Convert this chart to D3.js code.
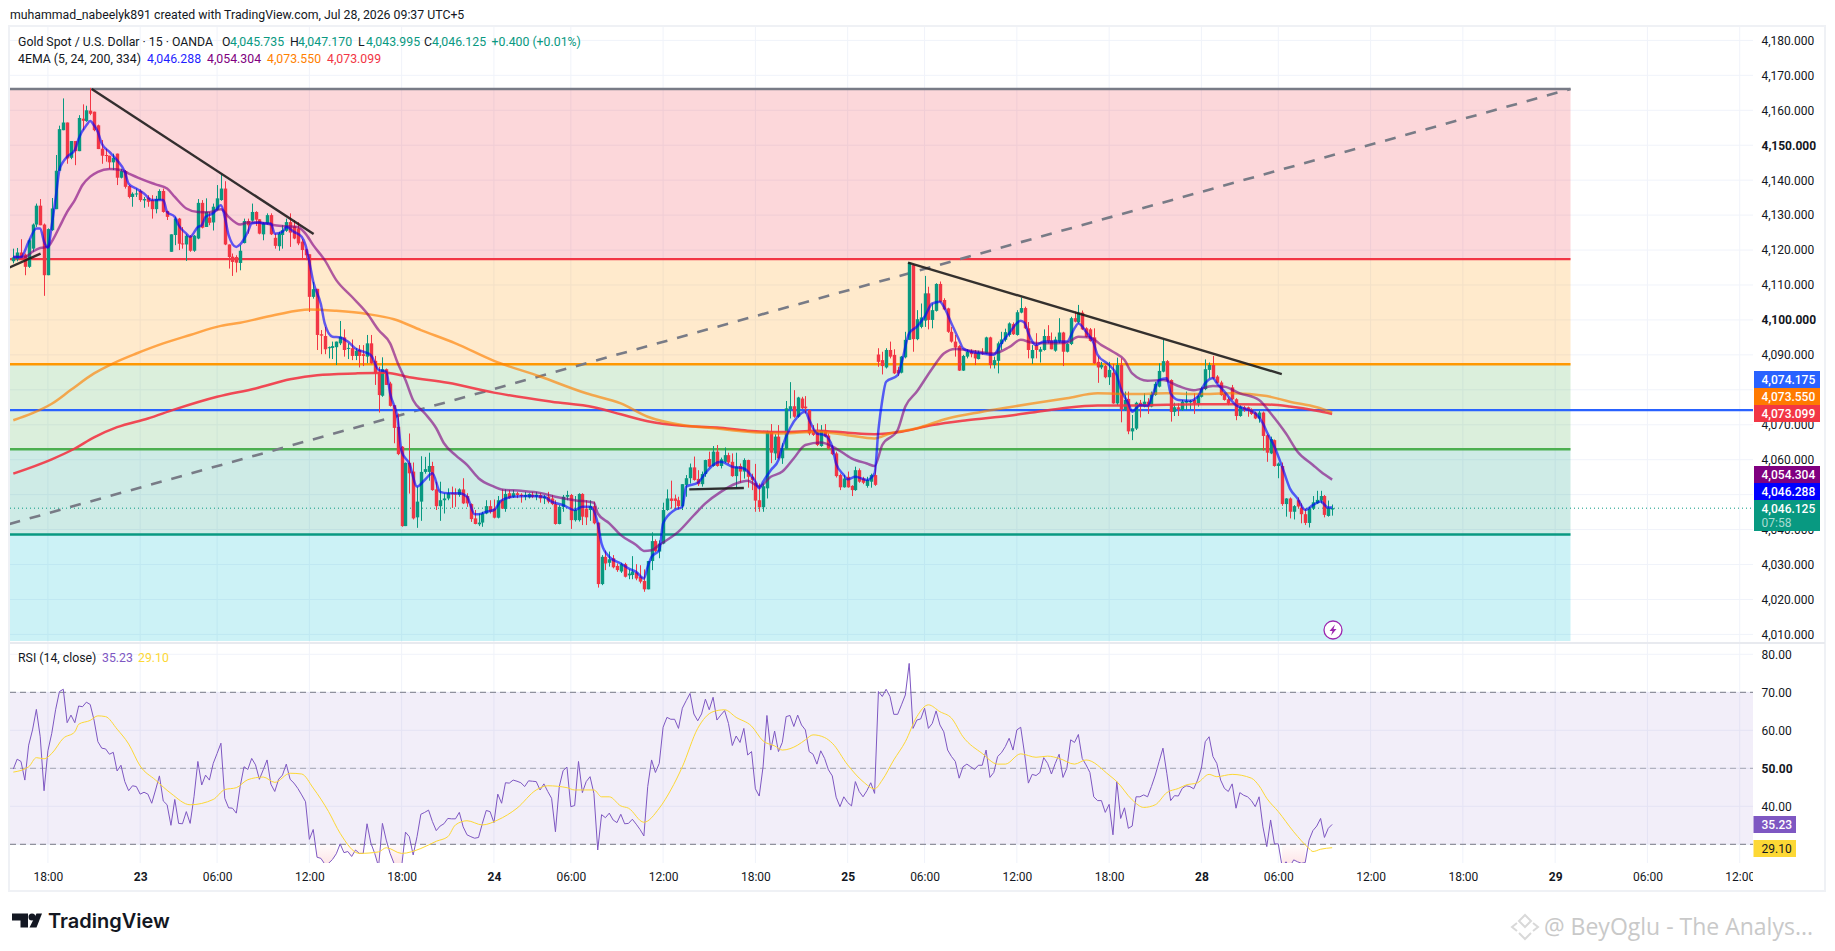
<!DOCTYPE html>
<html>
<head>
<meta charset="utf-8">
<title>Gold Spot / U.S. Dollar</title>
<script src="https://cdn.jsdelivr.net/npm/d3@7"></script>
<style>
  html, body { margin: 0; padding: 0; background: #fff; }
  svg { display: block; }
  text { font-family: Roboto, "Noto Sans", sans-serif; font-size: 12.3px; fill: #131722; }
  .axis path { display: none; }
  .axis line { display: none; }
  .axis text { fill: #131722; font-size: 12px; font-family: Roboto, "Noto Sans", sans-serif; }
</style>
</head>
<body>
<svg id="chart" width="1835" height="951"></svg>
<script>
// candles, one entry per 15 minute bar
var opens = [
4116.8,4117.4,4119.3,4118.7,4115.2,4120.4,4127.3,4132.7,4127.3,4112.8,
4125.7,4131.7,4142.7,4154.3,4156.5,4146.4,4151.2,4148.3,4157.6,4156.9,
4159.9,4159.6,4155.7,4149,4147.2,4147,4145.1,4147.6,4140.7,4142.6,
4138.3,4135.2,4136,4136.9,4134.2,4135,4134.3,4131.7,4134.3,4136.9,
4131.2,4119.5,4124.3,4129,4121.9,4121.6,4124,4119.8,4123.3,4133.5,
4126.6,4129.3,4127.9,4131.5,4134.3,4137.6,4121.6,4118.1,4118,4116.3,
4122,4128.3,4128.4,4130.9,4128.8,4124.5,4127.6,4130,4123.5,4121.1,
4124.3,4125.5,4128,4126.8,4126.2,4122.4,4120.2,4118.8,4106.6,4108.9,
4095.9,4095.4,4091.9,4092,4092.2,4093.3,4095,4091.8,4091.9,4089.7,
4091.4,4090.2,4089.5,4093.3,4088.3,4085.2,4078.3,4085.9,4081.8,4075.6,
4069.4,4063.7,4041,4059.1,4056.6,4043.5,4048,4056.5,4056.5,4058.2,
4051.5,4046.7,4048.4,4048.9,4050.4,4050.3,4049.9,4051.5,4049.6,4047.3,
4043.2,4041.5,4042,4044.6,4046.7,4046,4043.4,4048.4,4045.9,4050.4,
4049.4,4050.4,4050,4049.4,4049.2,4050,4049.4,4049.9,4048.9,4049.4,
4048.9,4047.3,4041.6,4046.5,4049.4,4049.9,4042.7,4042.7,4050.2,4046,
4045.6,4046.7,4042,4024.4,4032.2,4030.5,4031.8,4029.6,4028,4030.1,
4026.9,4027,4027.7,4026.5,4025.3,4022.9,4031,4036.7,4033.7,4036,
4045.6,4048.9,4048.9,4048.4,4046.7,4052.8,4054.7,4057.8,4054.5,4053,
4055.9,4060.2,4058.2,4062.3,4058.2,4059.4,4061.3,4059.4,4055.3,4058.2,
4056.6,4059.9,4055.1,4053.4,4048.4,4046.4,4051.8,4068,4061.8,4066.6,
4060.4,4063.2,4074.4,4075.3,4072.3,4077.5,4075.2,4074.2,4068.3,4067.8,
4063.9,4068.3,4066.9,4063.5,4061.8,4055.6,4052.1,4055.1,4052.5,4051.3,
4057,4054.6,4052.5,4053.7,4055.6,4090.1,4088.5,4086.4,4091.4,4090,
4085.7,4084.9,4089.3,4094.3,4115.7,4094.5,4098,4099.8,4107.6,4100,
4102.6,4110.3,4105.7,4103.3,4096.6,4093.8,4092.5,4085.5,4089.5,4090.9,
4090.6,4088.8,4090.6,4090.4,4095,4087.1,4088.3,4093.1,4094.3,4095.7,
4098.8,4095.7,4102.1,4103.4,4097.6,4089,4092.8,4090.9,4091.4,4095.4,
4094.1,4091.2,4093.8,4096.4,4090.9,4093.1,4100.5,4099.3,4102.1,4097.6,
4097.3,4095,4088,4086.4,4086.8,4083.6,4084.9,4076.1,4087.1,4074.2,
4077.4,4068.1,4068.9,4076.3,4075.2,4076.6,4075.2,4078.5,4080.9,4085.2,
4088.2,4082.8,4073.7,4075,4074.2,4076.3,4076.4,4077.1,4076.1,4078,
4080.2,4085.7,4087.1,4083.8,4082.1,4079,4077.3,4080.7,4077.3,4072.5,
4075,4075,4074.4,4073.5,4071.8,4073.5,4067,4061.8,4065.6,4058.2,
4058.2,4047.3,4048.9,4045.1,4048.4,4046.3,4044.4,4041.9,4046,4047.5,
4048.3,4049.6,4043.9,4045.735];

var highs = [
4120.4,4120.6,4123.1,4119,4123.3,4127.6,4133.3,4134.6,4127.6,4126.2,
4134.9,4147.2,4155.6,4163.4,4156.5,4151.2,4151.2,4158.6,4161.7,4161.3,
4166.4,4159.6,4155.9,4151.5,4149,4147,4147.6,4147.6,4143.3,4142.9,
4138.6,4136.5,4137.6,4137.4,4135.2,4135.7,4135.7,4135.5,4137.4,4137.6,
4131.2,4124.5,4129.5,4129.2,4126.6,4124.5,4124.3,4124.3,4134.6,4134.3,
4134.8,4130.9,4133.3,4138.6,4141.6,4139.7,4121.6,4119,4118.5,4121.4,
4129,4129,4133.3,4131.1,4128.8,4128,4130.5,4130.5,4124.7,4125.2,
4127.1,4129,4130.5,4128.6,4128,4123.1,4120.4,4118.8,4110.9,4108.9,
4097.1,4098,4092.4,4093.8,4093.8,4099.7,4097.3,4093.3,4094.4,4091.9,
4092.8,4092.8,4095.7,4095.7,4089.7,4086.6,4089.3,4086.1,4082.3,4075.6,
4073.2,4063.9,4059.2,4067.5,4059.2,4052.3,4061,4060.8,4062,4059.4,
4053.7,4053.7,4050.4,4051.8,4052.3,4051.8,4051.8,4054.7,4050.4,4047.5,
4045.6,4044.6,4045.1,4048.4,4048.4,4048.6,4049.6,4051.5,4051.5,4051.3,
4051.3,4050.8,4050.4,4050.8,4050.4,4050.8,4050.8,4050.4,4049.9,4050.8,
4049.9,4048.4,4047,4049.9,4051.1,4050.2,4049.6,4050.4,4050.4,4048.4,
4048.4,4048,4042,4032.7,4034,4033.7,4032.7,4030.3,4030.5,4030.5,
4028.6,4032.4,4030.1,4029.8,4028.6,4031,4039.2,4037.2,4036.9,4047.7,
4051.5,4054,4050,4049.4,4053,4055.6,4058.9,4060.9,4057,4056.6,
4060,4062.3,4063.9,4064.2,4060.6,4063.5,4062,4061.8,4062,4058.9,
4060.4,4060,4056,4058.8,4053.2,4053,4068.3,4070.2,4067.3,4069.9,
4064.7,4076.8,4082.2,4079.9,4078,4078,4078.2,4074.4,4069.9,4070.4,
4069.9,4070.2,4067.5,4064.2,4062.3,4056,4055.6,4056.6,4052.7,4058,
4057.5,4055.1,4055.1,4056,4058.5,4091.9,4090.9,4091.9,4093.8,4091.6,
4086.6,4089.7,4096.6,4116.5,4116,4102.8,4104.7,4112.6,4109.5,4104.7,
4110.5,4111,4106.2,4103.5,4098,4095.7,4092.8,4090,4091.6,4091.6,
4091.4,4091.2,4091.9,4095.2,4095.2,4089.5,4093.8,4096.6,4097.5,4099.3,
4099.3,4102.8,4106.4,4103.8,4099.4,4092.8,4096.2,4092.3,4097.3,4098.5,
4096.4,4095.2,4100.5,4096.6,4093.3,4100.9,4102.4,4104.3,4102.7,4097.9,
4097.7,4097.6,4089.5,4088,4087.1,4088,4087.4,4089.2,4089,4079.5,
4079.5,4072.8,4076.6,4077.1,4079,4077.6,4079.5,4082.3,4087.6,4094.3,
4088.5,4083,4076.3,4076.1,4077.1,4079.5,4077.1,4079,4078.5,4080.9,
4088.7,4087.8,4089.7,4084.2,4082.6,4079.2,4077.8,4081.4,4077.6,4075.6,
4075.4,4075.2,4074.7,4073.8,4074,4073.8,4067.3,4066.6,4065.8,4059.2,
4059.2,4049,4049.2,4047,4049.2,4047.5,4046,4046.5,4049.6,4051.1,
4051.1,4049.9,4048.3,4047.17];

var lows = [
4116.2,4116.8,4117.1,4112.8,4114.9,4119.5,4126.6,4127.1,4106.9,4112.8,
4125.5,4131.7,4142.7,4154.3,4144.7,4146,4144.3,4148.3,4154.3,4156.7,
4158.6,4154,4148.9,4144.7,4145.3,4143.3,4142.9,4138.6,4140.5,4137.6,
4134.8,4132.4,4135.2,4133.8,4132.1,4132.4,4129,4130.5,4134.3,4130.7,
4128.6,4119.5,4121.4,4120,4120.4,4116.9,4119.5,4119.5,4123.1,4126.2,
4126.6,4127.1,4125.6,4131.3,4134.1,4121.4,4114.7,4112.6,4113.6,4114.2,
4121.9,4124.7,4128.1,4126.9,4124.5,4122.8,4127.3,4124.3,4120.4,4119.8,
4120.4,4125.2,4120.9,4123.1,4121.4,4117.6,4117.1,4102.3,4106.1,4091.4,
4090.2,4090.2,4089,4088.8,4087.1,4092.8,4089.5,4088.8,4088.5,4088.5,
4086.4,4086.8,4087.6,4087.4,4081.4,4073.5,4078,4081.4,4075.2,4064.7,
4061.3,4040.8,4041,4050.3,4042.9,4040.5,4042.5,4056,4054,4051.1,
4045.6,4042.5,4044.6,4048.4,4046.2,4046.5,4049.4,4047.3,4046.5,4042.2,
4041.5,4041,4040.8,4044.4,4044.6,4043.2,4043.2,4045.9,4045.1,4048.8,
4049.1,4049,4047.7,4048.4,4048.9,4049,4048.4,4047.7,4047.3,4047.5,
4047,4041.4,4041.5,4045.1,4048.4,4040.2,4042.3,4042.3,4041.3,4041.3,
4042.5,4041.5,4023.4,4024.1,4028.4,4029.4,4028.9,4027.9,4027.6,4026.3,
4025.8,4025.8,4025.5,4024.6,4022.2,4022.9,4028.4,4033.6,4031.8,4035.8,
4045.4,4046,4046,4045.8,4045.6,4049.4,4053.2,4054,4052.5,4052.3,
4055.1,4057.8,4058,4058,4057.5,4059.1,4058.8,4055.1,4052,4053.4,
4054.6,4052,4051.3,4045.1,4045.1,4045.1,4048.9,4059,4059.9,4060.1,
4058.8,4063,4071.8,4072,4072,4074.5,4073.2,4067,4066.8,4063.9,
4063.7,4066.4,4062.9,4061.3,4054.9,4051.3,4052,4052,4049.6,4051.1,
4053.4,4053,4052,4052,4052.5,4086.6,4084.4,4086.1,4089,4084.5,
4084,4084.7,4089,4094.3,4090.9,4094.2,4097.6,4098,4097.3,4097.6,
4102.4,4105,4102.8,4096.3,4093.5,4089.5,4085.4,4085.4,4089,4089.3,
4087.1,4088.7,4090,4090.2,4086.1,4086.1,4084.7,4091.4,4093.8,4095.2,
4095.7,4095.5,4101.9,4097.4,4089,4087.4,4089,4087.8,4091.2,4093.3,
4091.6,4090.9,4093.3,4086.8,4090.7,4092.8,4099.3,4099,4097.1,4095,
4093.8,4087.4,4082,4085.9,4083.3,4081.4,4076,4075.6,4070.7,4074,
4067.3,4065.6,4068.5,4072.1,4075,4073.1,4075,4078.3,4080.7,4085,
4082.3,4070.9,4072.5,4072.5,4074,4074.2,4074.4,4073.1,4075.2,4077.8,
4079.9,4083.3,4083,4081.8,4078.3,4076.9,4075.6,4077.1,4071.3,4072.3,
4073.7,4072.3,4072.8,4071.6,4070.6,4062.6,4059.4,4061.6,4058,4054.7,
4046.8,4043.7,4043.2,4042.9,4046.1,4041.8,4041.3,4040.6,4045.6,4047.3,
4047.5,4043.5,4043.7,4043.995];

var closes = [
4117.9,4119.3,4117.8,4115.2,4122.8,4127.3,4132.7,4127.1,4112.8,4126,
4131.9,4142.7,4154.6,4156.5,4146.2,4151.2,4148.3,4157.8,4157,4160,
4159,4154.3,4148.9,4147,4147,4145.1,4146.4,4140.7,4142.6,4138.1,
4135.2,4136.1,4136.2,4134.3,4134.6,4133.8,4131.7,4134.6,4136.9,4130.9,
4129.5,4124.5,4129,4121.8,4121.6,4124.1,4119.8,4124.1,4133.5,4126.4,
4130.9,4127.8,4132.4,4134.8,4137.6,4121.6,4118,4116.6,4116.4,4119.8,
4128.3,4127.1,4130.9,4128.7,4124.7,4127.6,4130,4124.5,4121.2,4124.7,
4125.7,4128,4125,4123.3,4121.9,4120,4118.5,4106.6,4108.8,4095.7,
4095.5,4091.6,4092.2,4092.5,4093.8,4095.2,4091.4,4092,4089.7,4091.2,
4089.7,4089.7,4093.3,4087.6,4084.7,4078.5,4085.9,4081.4,4075.4,4069.1,
4061.6,4041,4059.1,4056.1,4043.2,4048,4056.5,4057.3,4058.2,4051.3,
4046.7,4048.4,4048.9,4050.4,4050.1,4050,4051.5,4047.5,4047.5,4043,
4041.6,4042,4044.6,4046.7,4045.1,4043.4,4048.4,4046,4050.2,4049,
4050.4,4049.9,4049.6,4049.9,4050.2,4049.4,4050,4048.9,4049.4,4048,
4047.3,4041.6,4046.5,4049.4,4049.9,4042.7,4045.6,4050.2,4043.7,4043.5,
4046.7,4041.8,4024.4,4032.2,4030.3,4031.5,4029.2,4028.4,4030.1,4026.5,
4027.4,4028,4026,4025.1,4022.9,4031,4036.7,4033.8,4036,4045.6,
4048.9,4048.2,4048.2,4046.7,4053,4054.7,4057.8,4054.2,4053,4055.9,
4059.9,4058,4062.3,4058.2,4060.1,4061.3,4059.2,4055.3,4058,4056.6,
4059.9,4055.1,4054.2,4048.3,4046.4,4052.4,4068,4062,4066.6,4060.4,
4063.2,4074.7,4075.3,4072.3,4077.8,4074.7,4074.7,4067.5,4067.1,4064.2,
4068.5,4066.6,4063.2,4061.6,4055.3,4052.1,4054.6,4052.1,4051.3,4057,
4053.7,4053.4,4054.2,4055.6,4052.8,4088,4086.8,4091.4,4089.5,4084.7,
4084.7,4089.5,4094.3,4116.4,4094.5,4100.2,4100.7,4107.6,4100,4102.8,
4110.3,4105.2,4103,4096.6,4093.8,4092.1,4085.5,4089.7,4090.9,4090.2,
4089,4090.6,4090.4,4095,4087.1,4088.5,4093.3,4094.4,4096.5,4099,
4095.9,4102.2,4103.4,4097.6,4091.4,4091.4,4091.4,4091.6,4095.4,4093.8,
4091.6,4094.4,4096.4,4090.9,4093.1,4100.5,4099.5,4102.1,4097.3,4095.2,
4094,4087.6,4086.4,4087.1,4083.6,4085.7,4076.1,4087.1,4074.4,4077.1,
4068.1,4069,4076.3,4075.2,4076.6,4075.2,4078.7,4081.7,4085.4,4088.2,
4082.6,4073.7,4075,4074.4,4076.6,4076.8,4076.8,4076.1,4078.2,4080.4,
4085.9,4087.1,4083.3,4082,4078.5,4077.1,4076.1,4077.3,4072.5,4075.2,
4074.2,4074,4073.1,4071.8,4073.5,4066.8,4062,4065.9,4058.2,4058.9,
4047.3,4048.9,4045.1,4046.7,4046.6,4044.4,4041.9,4046,4047.8,4048.5,
4049.6,4044.2,4046.3,4046.125];

// moving averages, read at the bars where the line bends
var ema5Bars = [0,2,4,6,7,8,9,10,11,12,13,14,16,17,19,20,21,22,23,25,27,29,30,32,34,36,37,39,40,42,43,45,46,48,49,50,52,54,55,56,58,59,61,62,64,65,67,68,70,71,73,75,76,77,78,80,81,83,85,87,89,91,93,95,97,98,100,101,103,105,107,109,111,113,116,118,120,121,123,125,127,130,134,138,140,143,146,148,150,152,153,155,158,160,162,164,165,166,168,169,172,174,175,178,180,182,184,187,190,193,194,195,197,199,200,202,204,206,207,209,211,213,214,216,217,219,222,224,225,226,227,230,231,233,235,237,239,241,242,244,246,247,249,252,255,256,257,259,262,263,264,266,268,272,274,276,277,279,281,282,285,287,288,290,291,293,295,296,298,300,301,303,306,308,310,312,313,315,318,320,323,325,326,328,330,332,334,336,338,340,342,343];
var ema5Vals = [4118,4118,4122.4,4126.2,4126.2,4122.4,4120.7,4127.1,4134.8,4142.9,4145.3,4146.7,4148.6,4151.9,4155.7,4156.9,4155.7,4153.8,4150.5,4148.1,4145.7,4142.4,4139,4137.6,4136.2,4134.3,4134.3,4134.3,4130.9,4129.5,4127.1,4124.7,4123.8,4126.6,4127.1,4129.5,4130.5,4132.8,4129.5,4124.3,4120.9,4121.6,4125.2,4127.6,4127.9,4127.6,4127.6,4124.7,4125.2,4126.6,4125.2,4123.8,4121.4,4116.6,4111,4104.5,4099,4095.2,4095,4093.8,4091.8,4090.9,4089.9,4085.7,4085.2,4079,4071.4,4062.3,4058.9,4052.3,4054.2,4056.1,4050.8,4050.4,4050.4,4049.4,4044.4,4044.4,4045.1,4045.6,4048.4,4049.4,4049.6,4049.4,4048,4047,4045.6,4046.5,4046.5,4041.8,4036,4032.2,4030.3,4028.9,4027.9,4026,4029.4,4032.2,4034.1,4041.8,4045.6,4046.5,4052.3,4053.4,4056.1,4058.5,4059.4,4058,4057.5,4053.7,4051.8,4053.7,4057,4059.9,4063.7,4069,4072.3,4073.7,4071.4,4067.5,4067,4063.7,4058.9,4055.6,4054.4,4055.1,4054.2,4056.1,4068.5,4077,4082.3,4084.2,4087.6,4096.2,4098.1,4100.9,4104.7,4105.2,4103.8,4099,4094.2,4091.9,4090.9,4090.4,4090,4091.4,4093.3,4096.2,4099.8,4099.2,4096.2,4092.8,4093.8,4093.8,4093.8,4097.6,4099,4096.6,4093.3,4090,4087.1,4084.2,4080.4,4076.1,4073.7,4075.6,4075.4,4077.6,4082.8,4083.3,4079,4077.1,4076.9,4078,4081.9,4083.3,4081.9,4079.5,4075.6,4074.7,4073.3,4070.4,4068,4063.7,4058,4051.8,4048.9,4045.6,4047,4048,4046.3,4046.288];

var ema24Bars = [0,3,5,7,9,10,12,14,16,18,20,22,25,28,30,34,37,40,42,45,48,51,54,56,59,61,64,68,71,74,76,78,81,84,88,92,95,98,100,102,104,107,110,112,115,118,121,125,127,132,137,141,146,151,152,155,158,162,164,166,168,173,177,180,184,188,191,194,197,200,203,206,210,214,218,222,224,226,230,232,235,239,242,245,249,255,259,262,265,269,274,277,280,283,286,289,291,295,299,303,307,312,315,319,324,327,331,334,338,340,343];
var ema24Vals = [4118,4118,4119.5,4120.6,4120.9,4122.4,4126.6,4130.9,4134.3,4138.6,4141,4142.4,4143.2,4142.9,4141.9,4140,4138.8,4137.6,4135.2,4131.9,4130.9,4130.8,4131.7,4129.5,4127.3,4127.9,4127.9,4127.1,4126.8,4126.6,4124.7,4121.4,4117.1,4111.4,4106.7,4101.9,4097.1,4093.3,4087.6,4082.8,4077,4073.3,4069,4064.7,4061.3,4058.5,4054.7,4052.3,4051.5,4051.1,4050.5,4049.4,4048.4,4047.7,4044.6,4041.8,4038.4,4035.6,4033.9,4034.1,4035.6,4039.4,4044.1,4047.5,4050.8,4053.2,4054,4052.3,4055.1,4056.6,4060.4,4064.2,4064.9,4063.2,4060.4,4058.9,4058.2,4064.2,4068.5,4075.2,4079.5,4086.1,4090.4,4091.7,4091.2,4090.4,4092.2,4094.3,4093.5,4093.3,4093.5,4095.2,4095,4092.8,4090.9,4088.5,4084.7,4082.6,4082.8,4081.1,4079.9,4081.1,4080.9,4079,4077.1,4073.3,4067.5,4062.3,4058.5,4056.6,4054.304];

var ema200Bars = [0,5,10,15,21,26,32,39,46,54,59,68,77,84,92,99,106,115,125,137,149,158,165,174,183,191,200,209,217,224,228,235,243,252,259,265,274,282,291,300,308,317,326,332,339,343];
var ema200Vals = [4071.3,4073.3,4076,4080,4084.7,4087.6,4090.4,4093.3,4095.7,4098.3,4099.2,4101.4,4103,4102.6,4101.7,4100.2,4097.1,4093.3,4088.3,4083.8,4079,4076.1,4072.3,4069.9,4068.9,4068,4067.5,4068,4067,4066.1,4067.5,4069,4071.8,4073.7,4075,4076.1,4077.6,4079,4078.8,4079,4078.8,4079,4078.2,4076.6,4075,4073.55];

var ema334Bars = [0,10,16,21,27,35,42,53,63,72,79,89,97,103,113,125,140,151,158,165,174,183,191,200,209,217,224,231,239,248,259,265,274,282,291,300,308,317,326,332,339,343];
var ema334Vals = [4056,4060.1,4063.2,4066.4,4069.3,4071.8,4074.4,4078,4080.4,4083,4084.2,4084.7,4084.9,4083.6,4082,4079.2,4076.6,4075,4073,4071,4069.7,4069.2,4068.3,4067.9,4068.3,4067.7,4067.3,4068,4069.9,4071.3,4072.6,4073.5,4074.9,4075.5,4075.5,4075.7,4075.9,4075.9,4075.8,4075.2,4074,4073.099];

// RSI for every bar
var rsiVals = [
49.8,52.4,51.8,46.9,56.1,60.1,65.5,58.3,44.1,54.6,
59.2,65.4,70.2,70.8,62,64,62,66.4,66.2,67.4,
66.8,62.7,57,55.3,55.1,53.7,54.2,49.3,50.8,46.5,
44.1,45.4,45.2,43.2,43.7,43.2,40.8,44.3,48,41.4,
40.4,35,41.8,35.5,35.4,38.6,35.5,42.5,51.8,45.6,
48.2,46.9,51.3,53.9,56.6,42.1,39.6,39.5,38.2,45.2,
50.4,49.7,52.6,50.9,47.1,49.6,52.2,45.8,43.9,47.1,
48.2,51.1,47.1,46.1,44.7,43,41.2,31.3,33.9,26.6,
26.3,24.8,25,26,27.5,30.1,27.8,28.1,26.8,28.5,
27.6,27.6,35.4,30.3,27.6,24.1,35.5,31.1,27.6,25,
22.4,24.1,33.2,32,27.2,32,37.9,38.4,39,36,
33.6,34.8,35.4,36.8,36.7,36.7,38.4,34.6,32.5,32,
31.6,31.8,35.5,38.9,38.6,35.7,43.2,40.8,46.2,46.1,
46.9,46.6,46.2,45.2,46.7,46.6,46.5,44.3,45.9,43.9,
42.1,33.3,45.2,49.4,50.3,39.9,40.2,51.8,43.6,46.5,
47.8,43.4,28.5,37.8,37,38.2,36.4,35.7,37.9,35.4,
35.5,36.6,35.3,33.9,32.2,45.2,52.2,48.9,51.3,60.8,
63.4,62.9,62.9,60.5,65.8,67.8,69.7,64.3,62.5,64.3,
68.2,65.4,68.7,62.7,64,65.2,61.8,56,58.5,56.8,
60.5,53.5,54.4,44.6,42.7,50.4,63.9,54.8,59.8,54.4,
56.8,63.6,63.9,61,64,61.4,60.1,54.4,53.7,51.1,
54.6,52.6,49.6,48,42.4,39.9,42.5,41,40.1,46.5,
43.9,42.5,44.1,46.2,43.4,70.2,68.9,70.8,68.9,64.2,
64.2,66.7,69.3,77.6,60.5,62.7,63,65.8,60.5,61.8,
65.1,61.4,59.6,54.8,53.1,51.8,47.4,50.4,51.1,50.4,
49.7,50.8,50.8,54.8,47.6,48.9,53.1,54.1,55.7,57.9,
54.8,60.1,60.8,53.9,46.1,48.4,48.1,48.9,52.8,51.3,
48.5,51.3,53.7,47.6,50,57.5,56.8,58.9,52.6,50.9,
48.9,42.5,41.5,41.5,38.4,40.5,32.5,46.5,36.8,39.6,
34.2,34.8,42.5,42.5,43,42.5,45.2,48.2,51.8,55.3,
48.7,41.5,42.8,42.7,44.7,45.4,45.2,44.6,46.9,50,
57,58.3,53.1,51.3,46.9,44.7,43.9,45.9,39.5,43.6,
42.9,42.5,41.5,39.9,42.5,34.6,29.4,36.4,30.1,30.1,
24.1,25.4,24.1,25.9,25.4,25,25.2,31.1,33.6,34.8,
36.8,31.8,34.2,35.23];

var rsiMaBars = [0,4,6,8,10,13,16,17,20,22,24,27,30,33,37,41,46,52,55,58,61,65,68,72,75,78,82,85,90,95,97,101,106,110,113,115,118,122,126,131,136,139,144,146,151,153,155,158,160,164,168,171,174,178,182,185,188,192,195,198,200,204,206,208,211,213,217,221,224,226,229,232,235,238,241,244,247,252,256,258,262,266,269,272,276,279,285,287,291,294,297,300,303,305,308,311,313,317,322,324,326,329,333,337,338,340,343];
var rsiMaVals = [49,50.4,52.8,52.5,53.9,57.9,59.6,61.6,62.6,63.8,63.6,60.3,56.4,50.6,46.9,43.4,40.4,41.8,44.4,44.9,47,47.7,46.3,48.7,48.5,44.8,38.6,32.9,27.6,28,29.1,27.6,28.9,30.8,32,35.1,36.2,35.1,36.4,39.5,44.3,45.4,44.9,44.3,44.3,42.5,42.5,40.1,39.5,35.8,39.5,44.3,50.4,60.5,64.9,65.4,63.4,61.1,57.2,55.9,54.8,56.1,57.5,58.8,58.1,56.6,50.9,46.5,44.6,46.9,52.2,57,63.6,66.7,64.9,63.2,58.3,53.9,51.1,51.1,53.8,52.9,53.2,52.6,51.1,52.2,48.2,46.5,41.7,39.7,40.4,43.6,44.7,45.6,46.2,48.4,47.8,48.4,47.4,45.4,42.1,38.6,33.3,28.9,28.1,28.7,29.1];

// axis ticks
var priceGrid = [4010,4020,4030,4040,4050,4060,4070,4080,4090,4100,4110,4120,4130,4140,4150,4160,4170,4180];
var priceTicks = [4010,4020,4030,4040,4060,4070,4090,4100,4110,4120,4130,4140,4150,4160,4170,4180];
var rsiGrid = [30,40,50,60,70,80];
var rsiTicks = [40,50,60,70,80];
var timeBars = [9,33,53,77,101,125,145,169,193,217,237,261,285,309,329,353,377,401,425,449];
var timeLabels = ["18:00","23","06:00","12:00","18:00","24","06:00","12:00","18:00","25","06:00","12:00","18:00","28","06:00","12:00","18:00","29","06:00","12:00"];

// drawings on the chart: fib levels, horizontal line, trend lines as bar / price pairs
var fibLevels = [4166.1,4117.4,4087.3,4063,4038.6,4008.1];
var fibEndBar = 405;
var blueLevel = 4074.175;
var lastClose = 4046.125;
var fibTrend = [[-1,4041.6],[405,4166.1]];
var trendLines = [
  [[20.4,4166.1],[78.1,4124.6]],
  [[-1,4115],[7.1,4119]],
  [[175.8,4051.5],[190,4051.9]],
  [[232.7,4116.4],[329.9,4084.5]]
];

// price tags on the right
var tagTexts = ["4,074.175","4,073.550","4,073.099","4,054.304","4,046.288"];
var tagFills = ["#2962ff","#ff7a00","#f23645","#800080","#0000ff"];
var tagTops = [371,388,405,466,483];

var paneL = 10, paneR = 1753, mainT = 27, mainB = 642, rsiT = 644, rsiB = 863;
var up = "#089981", down = "#f23645";

var svg = d3.select("#chart");

var x = d3.scaleLinear().domain([0, 449]).range([13.3, 13.3 + 3.845 * 449]);
var y = d3.scaleLinear().domain([4010, 4180]).range([634.4, 40.4]);
var yr = d3.scaleLinear().domain([30, 80]).range([844.3, 654.3]);

var defs = svg.append("defs");
defs.append("clipPath").attr("id", "clipMain").append("rect")
    .attr("x", paneL).attr("y", mainT).attr("width", paneR - paneL).attr("height", mainB - mainT);
defs.append("clipPath").attr("id", "clipRsi").append("rect")
    .attr("x", paneL).attr("y", rsiT).attr("width", paneR - paneL).attr("height", rsiB - rsiT);
defs.append("clipPath").attr("id", "clipTime").append("rect")
    .attr("x", paneL).attr("y", rsiB).attr("width", paneR - paneL).attr("height", 27);
var fade = defs.append("linearGradient").attr("id", "oversold").attr("x1", 0).attr("x2", 0).attr("y1", 0).attr("y2", 1);
fade.append("stop").attr("offset", 0).attr("stop-color", "#f23645").attr("stop-opacity", 0.02);
fade.append("stop").attr("offset", 1).attr("stop-color", "#f23645").attr("stop-opacity", 0.18);

// outer frame
svg.append("rect").attr("x", 9).attr("y", 26).attr("width", 1816).attr("height", 865)
    .attr("fill", "#fff").attr("stroke", "#eff1f5").attr("stroke-width", 2);
svg.append("line").attr("x1", paneL).attr("x2", 1825).attr("y1", 643).attr("y2", 643)
    .attr("stroke", "#e8eaef").attr("stroke-width", 2);

// grid
var grid = svg.append("g").attr("stroke", "#f0f3fa");
grid.selectAll(".hp").data(priceGrid).join("line")
    .attr("x1", paneL).attr("x2", paneR).attr("y1", function(d) { return y(d); }).attr("y2", function(d) { return y(d); });
grid.selectAll(".hr").data(rsiGrid).join("line")
    .attr("x1", paneL).attr("x2", paneR).attr("y1", function(d) { return yr(d); }).attr("y2", function(d) { return yr(d); });
grid.selectAll(".vm").data(timeBars).join("line")
    .attr("x1", function(d) { return x(d); }).attr("x2", function(d) { return x(d); }).attr("y1", mainT).attr("y2", mainB);
grid.selectAll(".vr").data(timeBars).join("line")
    .attr("x1", function(d) { return x(d); }).attr("x2", function(d) { return x(d); }).attr("y1", rsiT).attr("y2", rsiB);

var main = svg.append("g").attr("clip-path", "url(#clipMain)");

// fib zones
var zoneFill = ["#f23645", "#ff9800", "#4caf50", "#089981", "#00bcd4"];
var levelStroke = ["#787b86", "#f23645", "#ff9800", "#4caf50", "#089981"];
var zoneData = d3.range(5);
main.selectAll(".zone").data(zoneData).join("rect")
    .attr("x", paneL - 2)
    .attr("width", x(fibEndBar) - paneL + 2)
    .attr("y", function(d) { return y(fibLevels[d]); })
    .attr("height", function(d) { return y(fibLevels[d + 1]) - y(fibLevels[d]); })
    .attr("fill", function(d) { return zoneFill[d]; })
    .attr("fill-opacity", 0.2);
main.selectAll(".level").data(zoneData).join("line")
    .attr("x1", paneL).attr("x2", x(fibEndBar))
    .attr("y1", function(d) { return y(fibLevels[d]); })
    .attr("y2", function(d) { return y(fibLevels[d]); })
    .attr("stroke", function(d) { return levelStroke[d]; })
    .attr("stroke-width", 2.4);

var seg = d3.line().x(function(d) { return x(d[0]); }).y(function(d) { return y(d[1]); });

main.append("path").attr("d", seg(fibTrend))
    .attr("fill", "none").attr("stroke", "#787b86").attr("stroke-width", 2.6).attr("stroke-dasharray", "11 10");

main.append("line").attr("x1", paneL).attr("x2", paneR)
    .attr("y1", y(blueLevel)).attr("y2", y(blueLevel))
    .attr("stroke", "#2962ff").attr("stroke-width", 2.2);

main.append("line").attr("x1", paneL).attr("x2", paneR)
    .attr("y1", y(lastClose)).attr("y2", y(lastClose))
    .attr("stroke", up).attr("stroke-dasharray", "1 3");

// candles
var bars = d3.range(closes.length);
var candleColor = function(i) { return closes[i] >= opens[i] ? up : down; };
main.append("g").selectAll("rect").data(bars).join("rect")
    .attr("x", function(i) { return Math.round(x(i)); })
    .attr("width", 1)
    .attr("y", function(i) { return y(highs[i]); })
    .attr("height", function(i) { return Math.max(1, y(lows[i]) - y(highs[i])); })
    .attr("fill", candleColor);
main.append("g").selectAll("rect").data(bars).join("rect")
    .attr("x", function(i) { return Math.round(x(i)) - 1.2; })
    .attr("width", 3.4)
    .attr("y", function(i) { return y(Math.max(opens[i], closes[i])); })
    .attr("height", function(i) { return Math.max(1, Math.abs(y(opens[i]) - y(closes[i]))); })
    .attr("fill", candleColor);

// EMAs
function emaPath(b, v) {
  var pts = b.map(function(d, k) { return [d, v[k]]; });
  return d3.line().curve(d3.curveMonotoneX)
      .x(function(d) { return x(d[0]); }).y(function(d) { return y(d[1]); })(pts);
}
var emaStyles = [
  [ema334Bars, ema334Vals, "#f23645", 0.9],
  [ema200Bars, ema200Vals, "#ff7f00", 0.65],
  [ema24Bars, ema24Vals, "#800080", 0.62],
  [ema5Bars, ema5Vals, "#0000ff", 0.62]
];
emaStyles.forEach(function(s) {
  main.append("path").attr("d", emaPath(s[0], s[1]))
      .attr("fill", "none").attr("stroke", s[2]).attr("stroke-opacity", s[3]).attr("stroke-width", 2.5);
});

// trend lines
main.selectAll(".trend").data(trendLines).join("path")
    .attr("d", function(d) { return seg(d); })
    .attr("fill", "none").attr("stroke", "#1e1c1c").attr("stroke-opacity", 0.9).attr("stroke-width", 2.4);

// lightning marker
var marker = svg.append("g").attr("transform", "translate(1333,630)");
marker.append("circle").attr("r", 9).attr("fill", "#fff").attr("stroke", "#9c27b0").attr("stroke-width", 1.3);
marker.append("path").attr("d", "M2,-5.5 L-3.5,1 L-0.5,1 L-2,5.5 L3.5,-1 L0.5,-1 Z").attr("fill", "#9c27b0");

// RSI pane
var rsi = svg.append("g").attr("clip-path", "url(#clipRsi)");
rsi.append("rect").attr("x", paneL).attr("width", paneR - paneL)
    .attr("y", yr(70)).attr("height", yr(30) - yr(70))
    .attr("fill", "#7e57c2").attr("fill-opacity", 0.1);
rsi.selectAll(".band").data([70, 50, 30]).join("line")
    .attr("x1", paneL).attr("x2", paneR)
    .attr("y1", function(d) { return yr(d); }).attr("y2", function(d) { return yr(d); })
    .attr("stroke", "#787b86").attr("stroke-opacity", function(d) { return d === 50 ? 0.6 : 1; })
    .attr("stroke-dasharray", "6 4");

rsi.append("path").datum(rsiVals)
    .attr("d", d3.area().defined(function(d) { return d < 30; })
        .x(function(d, i) { return x(i); }).y0(yr(30)).y1(function(d) { return yr(d); }))
    .attr("fill", "url(#oversold)");

rsi.append("path").datum(rsiVals)
    .attr("d", d3.line().x(function(d, i) { return x(i); }).y(function(d) { return yr(d); }))
    .attr("fill", "none").attr("stroke", "#7e57c2").attr("stroke-width", 1);

rsi.append("path").datum(rsiMaBars.map(function(d, k) { return [d, rsiMaVals[k]]; }))
    .attr("d", d3.line().curve(d3.curveMonotoneX).x(function(d) { return x(d[0]); }).y(function(d) { return yr(d[1]); }))
    .attr("fill", "none").attr("stroke", "#fdd835").attr("stroke-width", 1);

// axes
var priceAxis = d3.axisRight(y).tickValues(priceTicks).tickFormat(d3.format(",.3f")).tickSize(0).tickPadding(0);
var gPrice = svg.append("g").attr("class", "axis").attr("transform", "translate(1761.5,0)").call(priceAxis);
gPrice.selectAll("text").attr("font-weight", function(d) { return d % 50 === 0 ? 700 : 400; });

var rsiAxis = d3.axisRight(yr).tickValues(rsiTicks).tickFormat(d3.format(".2f")).tickSize(0).tickPadding(0);
var gRsi = svg.append("g").attr("class", "axis").attr("transform", "translate(1761.5,0)").call(rsiAxis);
gRsi.selectAll("text").attr("font-weight", function(d) { return d === 50 ? 700 : 400; });

var timeAxis = d3.axisBottom(x).tickValues(timeBars)
    .tickFormat(function(d) { return timeLabels[timeBars.indexOf(d)]; })
    .tickSize(0).tickPadding(9.5);
var gTime = svg.append("g").attr("clip-path", "url(#clipTime)").append("g")
    .attr("class", "axis").attr("transform", "translate(0," + rsiB + ")").call(timeAxis);
gTime.selectAll("text").attr("font-weight", function(d) {
  return timeLabels[timeBars.indexOf(d)].indexOf(":") < 0 ? 700 : 400;
});

// price tags
var tagG = svg.append("g");
tagTexts.forEach(function(t, k) {
  tagG.append("rect").attr("x", 1754).attr("y", tagTops[k]).attr("width", 66).attr("height", 17).attr("fill", tagFills[k]);
  tagG.append("text").attr("x", 1761.5).attr("y", tagTops[k] + 12.8).style("fill", "#fff").style("font-size", "12px")
      .attr("font-weight", 500).text(t);
});
tagG.append("rect").attr("x", 1754).attr("y", 500).attr("width", 66).attr("height", 31).attr("fill", up);
tagG.append("text").attr("x", 1761.5).attr("y", 512.8).style("fill", "#fff").style("font-size", "12px").attr("font-weight", 500).text("4,046.125");
tagG.append("text").attr("x", 1761.5).attr("y", 526.5).style("fill", "#a9dcd2").style("font-size", "12px").text("07:58");
tagG.append("rect").attr("x", 1753.5).attr("y", 816).attr("width", 42.5).attr("height", 17).attr("fill", "#7e57c2");
tagG.append("text").attr("x", 1761.5).attr("y", 828.8).style("fill", "#fff").style("font-size", "12px").attr("font-weight", 500).text("35.23");
tagG.append("rect").attr("x", 1753.5).attr("y", 840).attr("width", 42.5).attr("height", 17).attr("fill", "#fdd835");
tagG.append("text").attr("x", 1761.5).attr("y", 852.8).style("font-size", "12px").text("29.10");

// header and legends
function label(px, py, str, color) {
  return svg.append("text").attr("x", px).attr("y", py).style("fill", color || "#131722").text(str);
}
label(10, 19, "muhammad_nabeelyk891 created with TradingView.com, Jul 28, 2026 09:37 UTC+5");
label(18, 45.5, "Gold Spot / U.S. Dollar \u00b7 15 \u00b7 OANDA");
var ohlcLetters = ["O", "H", "L", "C"];
var ohlcVals = ["4,045.735", "4,047.170", "4,043.995", "4,046.125"];
var ohlcX = [222, 290, 358, 424];
ohlcLetters.forEach(function(l, k) {
  label(ohlcX[k], 45.5, l);
  label(ohlcX[k] + 8, 45.5, ohlcVals[k], up);
});
label(491.5, 45.5, "+0.400 (+0.01%)", up);
label(18, 63, "4EMA (5, 24, 200, 334)");
label(147, 63, "4,046.288", "#1f1fff");
label(207, 63, "4,054.304", "#800080");
label(267, 63, "4,073.550", "#ff7f00");
label(327, 63, "4,073.099", "#f23645");
label(18, 662, "RSI (14, close)");
label(102, 662, "35.23", "#7e57c2");
label(138, 662, "29.10", "#fdd835");

// logo
var logo = svg.append("g").attr("fill", "#131722");
logo.append("path").attr("d", "M12,913.5 H28 V927.5 H20.5 V920.5 H12 Z");
logo.append("circle").attr("cx", 32).attr("cy", 917).attr("r", 3.5);
logo.append("path").attr("d", "M36.5,913.5 H42 L36.5,927.5 H29.5 Z");
svg.append("text").attr("x", 48).attr("y", 928).style("font-size", "20px").style("font-weight", 600)
    .style("font-family", "Inter, Roboto, sans-serif").text("TradingView");

// watermark
var wm = svg.append("g").attr("transform", "translate(1525,927)").attr("fill", "none").attr("stroke", "#d9d9d9").attr("stroke-width", 2);
wm.append("path").attr("d", "M0,-12 L6,-6 L0,0 L-6,-6 Z M-8,-4 L-13,0 L-8,4 M8,-4 L13,0 L8,4 M-6,6 L0,12 L6,6");
svg.append("text").attr("x", 1544).attr("y", 935).style("font-size", "23px").style("fill", "#c9c9c9")
    .style("font-family", "'Open Sans', sans-serif").text("@ BeyOglu - The Analys...");
</script>
</body>
</html>
